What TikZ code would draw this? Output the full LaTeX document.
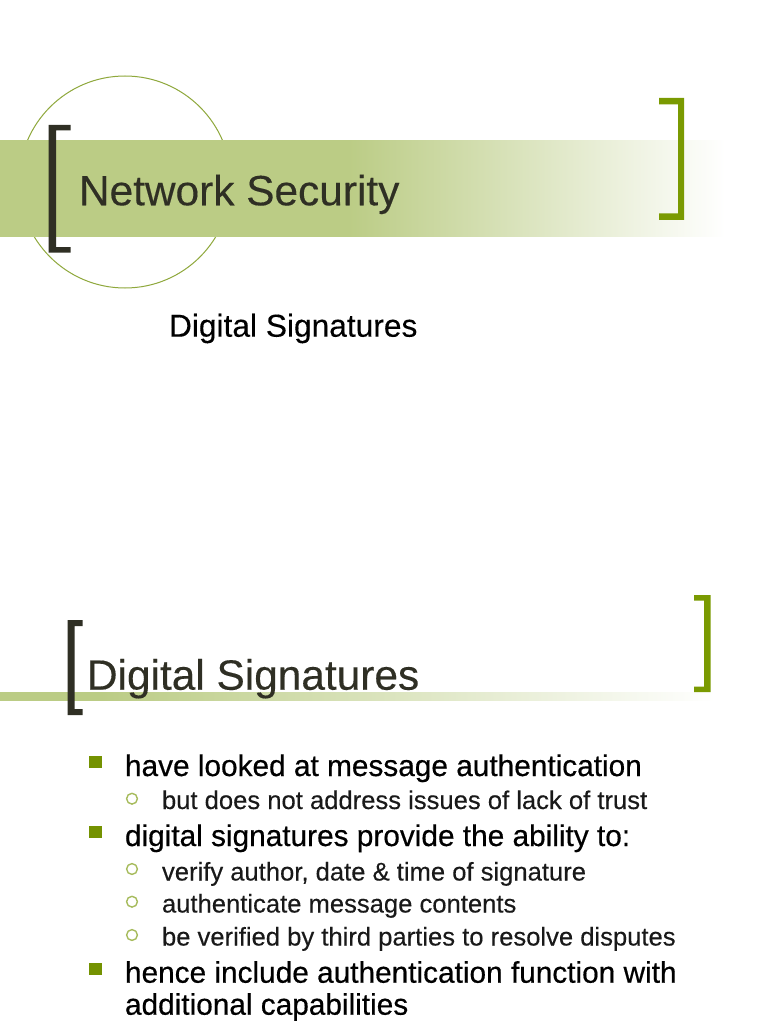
\documentclass[tikz,border=0pt]{standalone}
\usepackage{fontspec}
\setmainfont{Liberation Sans}
\newfontfamily\heavy[FakeBold=0.5]{Liberation Sans}
\newfontfamily\semi[FakeBold=0.25]{Liberation Sans}
\definecolor{band}{HTML}{BBCC85}
\definecolor{olive}{HTML}{7A9A01}
\definecolor{dark}{HTML}{2F2F24}
\definecolor{ringc}{HTML}{8FA83C}
\definecolor{ringb}{HTML}{A6BB5C}
\pgfdeclarehorizontalshading{bandtop}{100bp}{color(0bp)=(band); color(49bp)=(band); color(75bp)=(white); color(100bp)=(white)}
\pgfdeclarehorizontalshading{bandlow}{100bp}{color(0bp)=(band); color(32bp)=(band); color(75bp)=(white); color(100bp)=(white)}
\newcommand{\fs}[1]{\fontsize{#1}{#1}\selectfont}
\tikzset{
  x=1pt,y=-1pt,
  txt/.style={anchor=base west,inner sep=0pt,outer sep=0pt,text=black},
  heading/.style={txt,text=dark},
  lvla/.style={txt,font=\heavy\fs{29.8}},
  lvlb/.style={txt,font=\semi\fs{25.6},text=black!90},
  sqb/.style={fill=olive!95!black,draw=none},
  cib/.style={draw=ringb,line width=1.4pt,fill=none}
}
\begin{document}
\begin{tikzpicture}
\useasboundingbox (0,0) rectangle (768,1024);
\fill[white] (0,0) rectangle (768,1024);
% top slide
\draw[ringc,line width=1pt] (125,182) circle[radius=106];
\shade[shading=bandtop,draw=none] (0,140.5) rectangle (725,236);
\fill[dark] (70.5,125) -- (48.5,125) -- (48.5,252.5) -- (70.5,252.5) -- (70.5,247) -- (56,247) -- (56,130.5) -- (70.5,130.5) -- cycle;
\fill[olive] (659,98) -- (684,98) -- (684,220) -- (659,220) -- (659,213.5) -- (678,213.5) -- (678,104.5) -- (659,104.5) -- cycle;
\node[heading,font=\semi\fs{42.4}] (title) at (79,205.3) {Network Security};
\node[txt,font=\semi\fs{31.7}] (subtitle) at (169,336.7) {Digital Signatures};
% second slide
\shade[shading=bandlow,draw=none] (0,692) rectangle (715,700);
\fill[dark] (82.7,620) -- (67.5,620) -- (67.5,715) -- (82.7,715) -- (82.7,709) -- (74.5,709) -- (74.5,626) -- (82.7,626) -- cycle;
\fill[olive] (694,595) -- (710.5,595) -- (710.5,692) -- (694,692) -- (694,686.5) -- (704,686.5) -- (704,600.5) -- (694,600.5) -- cycle;
\node[heading,font=\semi\fs{42.4}] (head) at (87,689.7) {Digital Signatures};
% bullets
\fill[sqb] (89,756) rectangle (102,768);
\fill[sqb] (89,826) rectangle (102,838);
\fill[sqb] (89,963) rectangle (102,975);
\draw[cib] (132,798.7) circle[radius=5.4];
\draw[cib] (132,869) circle[radius=5.4];
\draw[cib] (132,901.7) circle[radius=5.4];
\draw[cib] (132,935) circle[radius=5.4];
\node[lvla] (a1) at (125,776) {have looked at message authentication};
\node[lvlb] (b1) at (162,809) {but does not address issues of lack of trust};
\node[lvla] (a2) at (125,846) {digital signatures provide the ability to:};
\node[lvlb] (b2) at (162,880.5) {verify author, date \& time of signature};
\node[lvlb] (b3) at (162,912.5) {authenticate message contents};
\node[lvlb] (b4) at (162,945.5) {be verified by third parties to resolve disputes};
\node[lvla] (a3) at (125,982.7) {hence include authentication function with};
\node[lvla] (a4) at (125,1014.7) {additional capabilities};
\end{tikzpicture}
\end{document}
